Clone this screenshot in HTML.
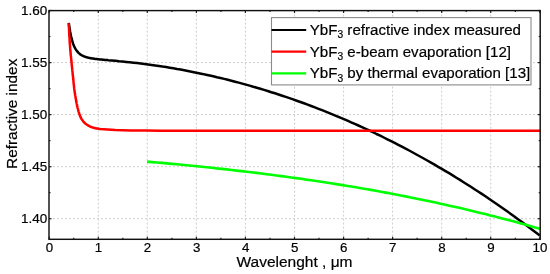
<!DOCTYPE html>
<html><head><meta charset="utf-8"><style>
html,body{margin:0;padding:0;background:#fff;width:550px;height:274px;overflow:hidden}
svg{display:block;font-family:"Liberation Sans",Arial,sans-serif;fill:#111}
text{fill:#000;stroke:#000;stroke-width:0.2px}
</style></head><body>
<svg width="550" height="274" viewBox="0 0 550 274"><g stroke="#cdcdcd" stroke-width="1" stroke-dasharray="2,2"><line x1="98.3" y1="10.6" x2="98.3" y2="239.3"/><line x1="147.3" y1="10.6" x2="147.3" y2="239.3"/><line x1="196.4" y1="10.6" x2="196.4" y2="239.3"/><line x1="245.4" y1="10.6" x2="245.4" y2="239.3"/><line x1="294.5" y1="10.6" x2="294.5" y2="239.3"/><line x1="343.6" y1="10.6" x2="343.6" y2="239.3"/><line x1="392.6" y1="10.6" x2="392.6" y2="239.3"/><line x1="441.7" y1="10.6" x2="441.7" y2="239.3"/><line x1="490.7" y1="10.6" x2="490.7" y2="239.3"/><line x1="49.0" y1="218.7" x2="540.2" y2="218.7"/><line x1="49.0" y1="166.7" x2="540.2" y2="166.7"/><line x1="49.0" y1="114.6" x2="540.2" y2="114.6"/><line x1="49.0" y1="62.6" x2="540.2" y2="62.6"/></g><g stroke="#222" stroke-width="1.2"><line x1="49.2" y1="239.3" x2="49.2" y2="236.8"/><line x1="49.2" y1="10.6" x2="49.2" y2="13.1"/><line x1="73.7" y1="239.3" x2="73.7" y2="237.8"/><line x1="73.7" y1="10.6" x2="73.7" y2="12.1"/><line x1="98.3" y1="239.3" x2="98.3" y2="236.8"/><line x1="98.3" y1="10.6" x2="98.3" y2="13.1"/><line x1="122.8" y1="239.3" x2="122.8" y2="237.8"/><line x1="122.8" y1="10.6" x2="122.8" y2="12.1"/><line x1="147.3" y1="239.3" x2="147.3" y2="236.8"/><line x1="147.3" y1="10.6" x2="147.3" y2="13.1"/><line x1="171.9" y1="239.3" x2="171.9" y2="237.8"/><line x1="171.9" y1="10.6" x2="171.9" y2="12.1"/><line x1="196.4" y1="239.3" x2="196.4" y2="236.8"/><line x1="196.4" y1="10.6" x2="196.4" y2="13.1"/><line x1="220.9" y1="239.3" x2="220.9" y2="237.8"/><line x1="220.9" y1="10.6" x2="220.9" y2="12.1"/><line x1="245.4" y1="239.3" x2="245.4" y2="236.8"/><line x1="245.4" y1="10.6" x2="245.4" y2="13.1"/><line x1="270.0" y1="239.3" x2="270.0" y2="237.8"/><line x1="270.0" y1="10.6" x2="270.0" y2="12.1"/><line x1="294.5" y1="239.3" x2="294.5" y2="236.8"/><line x1="294.5" y1="10.6" x2="294.5" y2="13.1"/><line x1="319.0" y1="239.3" x2="319.0" y2="237.8"/><line x1="319.0" y1="10.6" x2="319.0" y2="12.1"/><line x1="343.6" y1="239.3" x2="343.6" y2="236.8"/><line x1="343.6" y1="10.6" x2="343.6" y2="13.1"/><line x1="368.1" y1="239.3" x2="368.1" y2="237.8"/><line x1="368.1" y1="10.6" x2="368.1" y2="12.1"/><line x1="392.6" y1="239.3" x2="392.6" y2="236.8"/><line x1="392.6" y1="10.6" x2="392.6" y2="13.1"/><line x1="417.1" y1="239.3" x2="417.1" y2="237.8"/><line x1="417.1" y1="10.6" x2="417.1" y2="12.1"/><line x1="441.7" y1="239.3" x2="441.7" y2="236.8"/><line x1="441.7" y1="10.6" x2="441.7" y2="13.1"/><line x1="466.2" y1="239.3" x2="466.2" y2="237.8"/><line x1="466.2" y1="10.6" x2="466.2" y2="12.1"/><line x1="490.7" y1="239.3" x2="490.7" y2="236.8"/><line x1="490.7" y1="10.6" x2="490.7" y2="13.1"/><line x1="515.3" y1="239.3" x2="515.3" y2="237.8"/><line x1="515.3" y1="10.6" x2="515.3" y2="12.1"/><line x1="539.8" y1="239.3" x2="539.8" y2="236.8"/><line x1="539.8" y1="10.6" x2="539.8" y2="13.1"/><line x1="49.0" y1="218.7" x2="51.5" y2="218.7"/><line x1="540.2" y1="218.7" x2="537.7" y2="218.7"/><line x1="49.0" y1="166.7" x2="51.5" y2="166.7"/><line x1="540.2" y1="166.7" x2="537.7" y2="166.7"/><line x1="49.0" y1="114.6" x2="51.5" y2="114.6"/><line x1="540.2" y1="114.6" x2="537.7" y2="114.6"/><line x1="49.0" y1="62.6" x2="51.5" y2="62.6"/><line x1="540.2" y1="62.6" x2="537.7" y2="62.6"/><line x1="49.0" y1="10.5" x2="51.5" y2="10.5"/><line x1="540.2" y1="10.5" x2="537.7" y2="10.5"/><line x1="49.0" y1="192.7" x2="50.5" y2="192.7"/><line x1="540.2" y1="192.7" x2="538.7" y2="192.7"/><line x1="49.0" y1="140.6" x2="50.5" y2="140.6"/><line x1="540.2" y1="140.6" x2="538.7" y2="140.6"/><line x1="49.0" y1="88.6" x2="50.5" y2="88.6"/><line x1="540.2" y1="88.6" x2="538.7" y2="88.6"/><line x1="49.0" y1="36.5" x2="50.5" y2="36.5"/><line x1="540.2" y1="36.5" x2="538.7" y2="36.5"/></g><g fill="none" stroke-linejoin="round" stroke-linecap="butt"><polyline stroke="#000" stroke-width="2.5" points="68.8,22.9 69.0,24.4 69.2,25.8 69.4,27.2 69.6,28.5 69.8,29.7 70.0,30.8 70.2,32.0 70.4,33.0 70.6,34.0 70.8,35.0 71.0,35.9 71.2,36.8 71.4,37.6 71.6,38.4 71.8,39.2 72.0,39.9 72.2,40.6 72.4,41.3 72.5,41.9 72.7,42.5 72.9,43.1 73.1,43.7 73.3,44.2 73.5,44.7 73.7,45.2 73.9,45.7 74.1,46.2 74.3,46.6 74.5,47.0 74.7,47.4 74.9,47.8 75.1,48.2 75.3,48.6 75.5,48.9 75.7,49.2 75.9,49.5 76.1,49.9 76.3,50.2 76.5,50.4 76.7,50.7 76.9,51.0 77.1,51.2 77.3,51.5 77.5,51.7 77.7,51.9 77.9,52.2 78.1,52.4 78.3,52.6 78.5,52.8 78.7,53.0 78.9,53.2 79.1,53.3 79.3,53.5 79.5,53.7 79.7,53.8 79.9,54.0 80.0,54.1 80.2,54.3 80.4,54.4 80.6,54.6 80.8,54.7 81.0,54.8 81.2,55.0 81.4,55.1 81.6,55.2 81.8,55.3 82.0,55.4 82.2,55.5 82.4,55.6 82.6,55.7 82.8,55.8 83.0,55.9 83.2,56.0 83.4,56.1 83.6,56.2 83.8,56.3 84.0,56.4 84.2,56.4 84.4,56.5 84.6,56.6 84.8,56.7 85.0,56.7 85.2,56.8 85.4,56.9 85.6,56.9 85.8,57.0 86.0,57.1 86.2,57.1 86.4,57.2 86.6,57.2 86.8,57.3 87.0,57.4 87.2,57.4 87.4,57.5 87.5,57.5 87.7,57.6 87.9,57.6 88.1,57.7 88.3,57.7 88.5,57.8 88.7,57.8 88.9,57.8 89.1,57.9 89.3,57.9 89.5,58.0 89.7,58.0 89.9,58.0 90.1,58.1 90.3,58.1 90.5,58.2 90.7,58.2 90.9,58.2 91.1,58.3 91.3,58.3 91.5,58.3 91.7,58.4 91.9,58.4 92.1,58.4 92.3,58.5 92.5,58.5 92.7,58.5 92.9,58.6 93.1,58.6 93.3,58.6 93.5,58.6 93.7,58.7 93.9,58.7 94.1,58.7 94.3,58.8 94.5,58.8 94.7,58.8 94.8,58.8 95.0,58.9 95.2,58.9 95.4,58.9 95.6,58.9 95.8,59.0 96.0,59.0 96.2,59.0 96.4,59.0 96.6,59.1 96.8,59.1 97.0,59.1 97.2,59.1 97.4,59.1 97.6,59.2 97.8,59.2 98.0,59.2 98.2,59.2 98.4,59.3 98.6,59.3 98.8,59.3 99.0,59.3 99.2,59.3 99.4,59.4 99.6,59.4 99.8,59.4 100.0,59.4 100.2,59.4 100.4,59.5 100.6,59.5 100.8,59.5 101.0,59.5 101.2,59.5 101.4,59.6 101.6,59.6 101.8,59.6 102.0,59.6 102.2,59.6 102.3,59.7 102.5,59.7 102.7,59.7 102.9,59.7 103.1,59.7 103.3,59.7 103.5,59.8 103.7,59.8 103.9,59.8 104.1,59.8 104.3,59.8 104.5,59.9 104.7,59.9 104.9,59.9 105.1,59.9 105.3,59.9 105.5,59.9 105.7,60.0 105.9,60.0 106.1,60.0 106.3,60.0 106.5,60.0 106.7,60.1 106.9,60.1 107.1,60.1 107.3,60.1 107.5,60.1 107.7,60.1 107.9,60.2 108.1,60.2 111.7,60.5 115.3,60.8 119.0,61.2 122.6,61.5 126.2,61.9 129.8,62.3 133.5,62.7 137.1,63.1 140.7,63.5 144.4,64.0 148.0,64.5 151.6,65.0 155.2,65.5 158.9,66.0 162.5,66.6 166.1,67.1 169.7,67.7 173.4,68.3 177.0,69.0 180.6,69.6 184.3,70.3 187.9,71.0 191.5,71.7 195.1,72.4 198.8,73.2 202.4,73.9 206.0,74.7 209.7,75.5 213.3,76.3 216.9,77.2 220.5,78.0 224.2,78.9 227.8,79.8 231.4,80.7 235.1,81.7 238.7,82.6 242.3,83.6 245.9,84.6 249.6,85.6 253.2,86.7 256.8,87.7 260.4,88.8 264.1,89.9 267.7,91.0 271.3,92.2 275.0,93.3 278.6,94.5 282.2,95.7 285.8,96.9 289.5,98.1 293.1,99.4 296.7,100.7 300.4,102.0 304.0,103.3 307.6,104.6 311.2,106.0 314.9,107.4 318.5,108.8 322.1,110.2 325.7,111.6 329.4,113.1 333.0,114.6 336.6,116.1 340.3,117.6 343.9,119.1 347.5,120.7 351.1,122.3 354.8,123.9 358.4,125.5 362.0,127.1 365.7,128.8 369.3,130.5 372.9,132.2 376.5,134.0 380.2,135.7 383.8,137.5 387.4,139.3 391.1,141.1 394.7,142.9 398.3,144.8 401.9,146.7 405.6,148.6 409.2,150.5 412.8,152.5 416.4,154.5 420.1,156.5 423.7,158.5 427.3,160.5 431.0,162.6 434.6,164.7 438.2,166.8 441.8,168.9 445.5,171.1 449.1,173.2 452.7,175.4 456.4,177.7 460.0,179.9 463.6,182.2 467.2,184.5 470.9,186.8 474.5,189.2 478.1,191.5 481.8,193.9 485.4,196.3 489.0,198.8 492.6,201.2 496.3,203.7 499.9,206.2 503.5,208.8 507.1,211.3 510.8,213.9 514.4,216.5 518.0,219.2 521.7,221.8 525.3,224.5 528.9,227.2 532.5,229.9 536.2,232.7 539.8,235.5"/><polyline stroke="#00ff00" stroke-width="2.6" points="147.1,161.6 152.1,162.1 157.0,162.5 162.0,162.9 167.0,163.4 172.0,163.9 176.9,164.3 181.9,164.8 186.9,165.3 191.9,165.8 196.8,166.3 201.8,166.8 206.8,167.3 211.8,167.8 216.7,168.4 221.7,168.9 226.7,169.4 231.6,170.0 236.6,170.6 241.6,171.1 246.6,171.7 251.5,172.3 256.5,172.9 261.5,173.5 266.5,174.2 271.4,174.8 276.4,175.5 281.4,176.1 286.4,176.8 291.3,177.5 296.3,178.1 301.3,178.8 306.2,179.6 311.2,180.3 316.2,181.0 321.2,181.8 326.1,182.5 331.1,183.3 336.1,184.1 341.1,184.9 346.0,185.7 351.0,186.5 356.0,187.3 361.0,188.2 365.9,189.0 370.9,189.9 375.9,190.8 380.9,191.7 385.8,192.6 390.8,193.5 395.8,194.5 400.7,195.5 405.7,196.4 410.7,197.4 415.7,198.4 420.6,199.4 425.6,200.5 430.6,201.5 435.6,202.6 440.5,203.7 445.5,204.8 450.5,205.9 455.5,207.0 460.4,208.1 465.4,209.3 470.4,210.5 475.3,211.7 480.3,212.9 485.3,214.1 490.3,215.4 495.2,216.6 500.2,217.9 505.2,219.2 510.2,220.5 515.1,221.8 520.1,223.2 525.1,224.6 530.1,226.0 535.0,227.4 540.0,228.8"/><polyline stroke="#ff0000" stroke-width="2.5" points="68.7,23.3 68.8,25.9 69.0,28.4 69.1,30.8 69.2,33.2 69.3,35.4 69.5,37.6 69.6,39.7 69.7,41.7 69.8,43.7 70.0,45.5 70.1,47.2 70.2,48.8 70.3,50.3 70.5,51.7 70.6,53.0 70.7,54.3 70.8,55.6 71.0,56.8 71.1,58.0 71.2,59.2 71.3,60.5 71.5,61.8 71.6,63.0 71.7,64.3 71.8,65.5 72.0,66.8 72.1,68.0 72.2,69.2 72.3,70.4 72.5,71.6 72.6,72.8 72.7,74.1 72.8,75.3 73.0,76.5 73.1,77.8 73.2,79.0 73.4,80.3 73.5,81.6 73.6,82.8 73.7,84.1 73.9,85.3 74.0,86.5 74.1,87.6 74.2,88.7 74.4,89.7 74.5,90.6 74.6,91.5 74.7,92.4 74.9,93.2 75.0,94.0 75.1,94.8 75.2,95.5 75.4,96.3 75.5,97.0 75.6,97.7 75.7,98.4 75.9,99.1 76.0,99.8 76.1,100.5 76.2,101.2 76.4,101.9 76.5,102.5 76.6,103.2 76.7,103.8 76.9,104.4 77.0,105.0 77.1,105.6 77.2,106.2 77.4,106.7 77.5,107.3 77.6,107.8 77.8,108.4 77.9,108.9 78.0,109.4 78.1,109.9 78.3,110.4 78.4,110.9 78.5,111.3 78.6,111.8 78.8,112.2 78.9,112.6 79.0,113.0 79.1,113.4 79.3,113.8 79.4,114.1 79.5,114.5 79.6,114.8 79.8,115.2 79.9,115.5 80.0,115.8 80.1,116.2 80.3,116.5 80.4,116.8 80.5,117.1 80.6,117.3 80.8,117.6 80.9,117.9 81.0,118.1 81.1,118.4 81.3,118.6 81.4,118.8 81.5,119.0 81.6,119.2 81.8,119.4 81.9,119.6 82.0,119.8 82.2,119.9 82.3,120.1 82.4,120.3 82.5,120.5 82.7,120.6 82.8,120.8 82.9,121.0 83.0,121.1 83.2,121.3 83.3,121.4 83.4,121.6 83.5,121.7 83.7,121.9 83.8,122.0 83.9,122.1 84.0,122.3 84.2,122.4 84.3,122.5 84.4,122.7 84.5,122.8 84.7,122.9 84.8,123.0 84.9,123.1 85.0,123.2 85.2,123.3 85.3,123.5 85.4,123.6 85.5,123.7 85.7,123.8 85.8,123.9 85.9,123.9 86.0,124.0 86.2,124.1 86.3,124.2 86.4,124.3 86.5,124.4 86.7,124.5 86.8,124.6 86.9,124.7 87.1,124.8 87.2,124.9 87.3,124.9 87.4,125.0 87.6,125.1 87.7,125.2 87.8,125.3 87.9,125.3 88.1,125.4 88.2,125.5 88.3,125.6 88.4,125.6 88.6,125.7 88.7,125.8 88.8,125.9 88.9,125.9 89.1,126.0 89.2,126.1 89.3,126.1 89.4,126.2 89.6,126.3 89.7,126.3 89.8,126.4 89.9,126.4 90.1,126.5 90.2,126.6 90.3,126.6 90.4,126.7 90.6,126.7 90.7,126.8 90.8,126.8 90.9,126.9 91.1,126.9 91.2,127.0 91.3,127.0 91.5,127.1 91.6,127.1 91.7,127.1 91.8,127.2 92.0,127.2 92.1,127.3 92.2,127.3 92.3,127.4 92.5,127.4 92.6,127.4 92.7,127.5 92.8,127.5 93.0,127.6 93.1,127.6 93.2,127.6 93.3,127.7 93.5,127.7 93.6,127.7 93.7,127.8 93.8,127.8 94.0,127.9 94.1,127.9 94.2,127.9 94.3,128.0 94.5,128.0 94.6,128.0 94.7,128.1 94.8,128.1 95.0,128.1 95.1,128.2 95.2,128.2 95.3,128.2 95.5,128.2 95.6,128.3 95.7,128.3 95.9,128.3 96.0,128.4 96.1,128.4 96.2,128.4 96.4,128.4 96.5,128.5 96.6,128.5 96.7,128.5 96.9,128.5 97.0,128.6 97.1,128.6 97.2,128.6 97.4,128.6 97.5,128.6 97.6,128.7 97.7,128.7 97.9,128.7 98.0,128.7 98.1,128.7 98.2,128.7 98.4,128.8 98.5,128.8 98.6,128.8 98.7,128.8 98.9,128.8 99.0,128.8 99.1,128.9 99.2,128.9 99.4,128.9 99.5,128.9 99.6,128.9 99.7,128.9 99.9,129.0 100.0,129.0 115.2,129.9 130.3,130.4 145.5,130.6 160.7,130.7 175.9,130.7 191.0,130.7 206.2,130.7 221.4,130.7 236.6,130.7 251.7,130.7 266.9,130.7 282.1,130.7 297.2,130.7 312.4,130.7 327.6,130.7 342.8,130.7 357.9,130.7 373.1,130.7 388.3,130.7 403.4,130.7 418.6,130.7 433.8,130.7 449.0,130.7 464.1,130.7 479.3,130.7 494.5,130.7 509.7,130.7 524.8,130.7 540.0,130.7"/></g><rect x="49.0" y="10.6" width="491.2" height="228.7" fill="none" stroke="#111" stroke-width="1.45"/><rect x="271.5" y="17.6" width="259.5" height="67.3" fill="#fff" stroke="#8a8a8a" stroke-width="1.1"/><line x1="271.5" y1="30.0" x2="306.2" y2="30.0" stroke="#000" stroke-width="2.2"/><text x="309.8" y="34.8" font-size="15.1">YbF<tspan dy="3.6" font-size="10.2">3</tspan><tspan dy="-3.6"> refractive index measured</tspan></text><line x1="271.5" y1="51.7" x2="306.2" y2="51.7" stroke="#ff0000" stroke-width="2.2"/><text x="309.8" y="56.5" font-size="15.1">YbF<tspan dy="3.6" font-size="10.2">3</tspan><tspan dy="-3.6"> e-beam evaporation [12]</tspan></text><line x1="271.5" y1="73.4" x2="306.2" y2="73.4" stroke="#00ff00" stroke-width="2.2"/><text x="309.8" y="78.2" font-size="15.1">YbF<tspan dy="3.6" font-size="10.2">3</tspan><tspan dy="-3.6"> by thermal evaporation [13]</tspan></text><text x="49.4" y="251.5" font-size="13.3" text-anchor="middle">0</text><text x="98.5" y="251.5" font-size="13.3" text-anchor="middle">1</text><text x="147.5" y="251.5" font-size="13.3" text-anchor="middle">2</text><text x="196.6" y="251.5" font-size="13.3" text-anchor="middle">3</text><text x="245.6" y="251.5" font-size="13.3" text-anchor="middle">4</text><text x="294.7" y="251.5" font-size="13.3" text-anchor="middle">5</text><text x="343.8" y="251.5" font-size="13.3" text-anchor="middle">6</text><text x="392.8" y="251.5" font-size="13.3" text-anchor="middle">7</text><text x="441.9" y="251.5" font-size="13.3" text-anchor="middle">8</text><text x="490.9" y="251.5" font-size="13.3" text-anchor="middle">9</text><text x="540.0" y="251.5" font-size="13.3" text-anchor="middle">10</text><text x="47.2" y="223.3" font-size="13.5" text-anchor="end">1.40</text><text x="47.2" y="171.3" font-size="13.5" text-anchor="end">1.45</text><text x="47.2" y="119.2" font-size="13.5" text-anchor="end">1.50</text><text x="47.2" y="67.2" font-size="13.5" text-anchor="end">1.55</text><text x="47.2" y="15.1" font-size="13.5" text-anchor="end">1.60</text><text x="294.5" y="266.9" font-size="15.5" text-anchor="middle">Wavelenght , μm</text><text transform="translate(17.0,113.8) rotate(-90)" font-size="15.4" text-anchor="middle">Refractive index</text></svg>
</body></html>
